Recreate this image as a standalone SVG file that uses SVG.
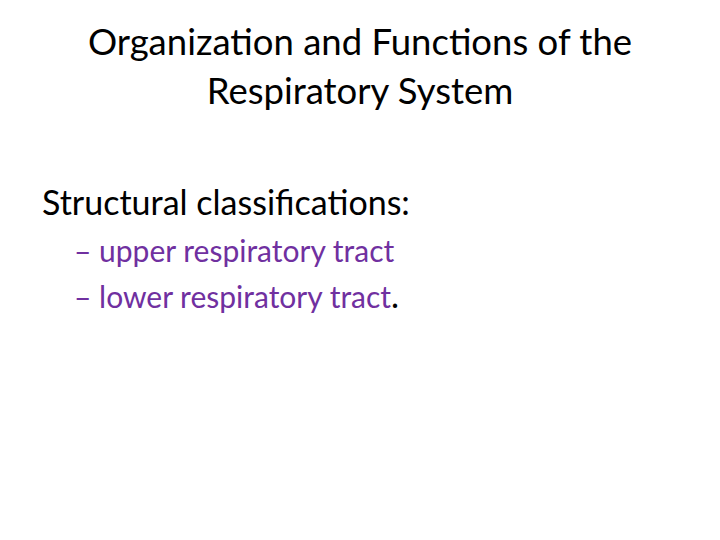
<svg xmlns="http://www.w3.org/2000/svg" width="720" height="540" viewBox="0 0 720 540">
<style>
text{font-family:Lato,"Open Sans","Liberation Sans",sans-serif}
.t{font-size:36.5px;fill:#000}
.h{font-size:34px;fill:#000}
.b{font-size:30px;fill:#7030A0}
</style>
<rect width="720" height="540" fill="#fff"/>
<g id="title">
<text class="t" x="360" y="55" text-anchor="middle">Organization and Functions of the</text>
<text class="t" x="360" y="104" text-anchor="middle">Respiratory System</text>
</g>
<g id="body">
<text class="h" x="42" y="215">Structural classifications:</text>
<text class="b" x="74" y="262">– upper respiratory tract</text>
<text class="b" x="74" y="308">– lower respiratory tract<tspan fill="#000" font-size="34">.</tspan></text>
</g>
</svg>
